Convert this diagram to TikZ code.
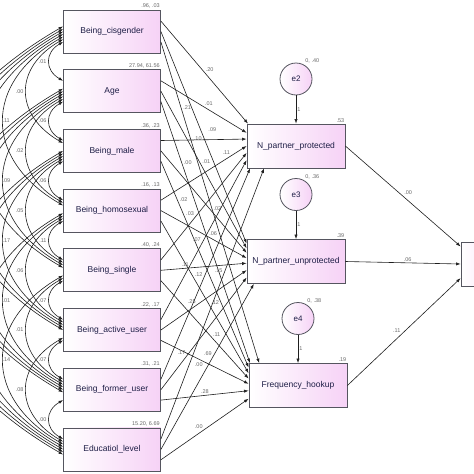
\documentclass[tikz,border=0pt]{standalone}
\usepackage{fontspec}
\setmainfont{Liberation Sans}
\usetikzlibrary{arrows.meta,positioning}

\definecolor{boxpink}{RGB}{246,210,246}
\definecolor{boxline}{RGB}{85,85,95}
\definecolor{txtblue}{RGB}{30,30,70}
\definecolor{coefgray}{RGB}{105,105,105}
\definecolor{linecol}{RGB}{30,30,30}

\begin{document}
\begin{tikzpicture}[x=1pt,y=-1pt,>={Latex[length=4.5pt,width=3.2pt]},auto,node distance=59.7pt,
    var/.style={draw=boxline,line width=0.8pt,left color=white,right color=boxpink,minimum width=97pt,minimum height=43pt,inner sep=0pt,text=txtblue,font=\fontsize{8.5}{10}\selectfont},
    err/.style={circle,draw=boxline,line width=0.8pt,left color=white,right color=boxpink,minimum size=32pt,inner sep=0pt,text=txtblue,font=\fontsize{8}{9}\selectfont},
    vlab/.style={font=\fontsize{5.5}{6}\selectfont,text=coefgray,inner sep=1pt},
    coef/.style={font=\fontsize{5.5}{6}\selectfont,text=coefgray,inner sep=1pt},
    reg/.style={color=linecol,line width=0.6pt},
    cov/.style={<->,color=linecol,line width=0.6pt,bend right=60,looseness=1.4}]
    \useasboundingbox (0,0) rectangle (474,474);
    \clip (0,0) rectangle (474,474);

    % exogenous variables
    \node[var,label={[vlab,anchor=south east]north east:{.96, .03}}]   (cis)    at (112,31.5)        {Being\_cisgender};
    \node[var,label={[vlab,anchor=south east]north east:{27.94, 61.56}}] (age)  [below of = cis]    {Age};
    \node[var,label={[vlab,anchor=south east]north east:{.36, .23}}]   (male)   [below of = age]    {Being\_male};
    \node[var,label={[vlab,anchor=south east]north east:{.16, .13}}]   (homo)   [below of = male]   {Being\_homosexual};
    \node[var,label={[vlab,anchor=south east]north east:{.40, .24}}]   (single) [below of = homo]   {Being\_single};
    \node[var,label={[vlab,anchor=south east]north east:{.22, .17}}]   (active) [below of = single] {Being\_active\_user};
    \node[var,label={[vlab,anchor=south east]north east:{.31, .21}}]   (former) [below of = active] {Being\_former\_user};
    \node[var,label={[vlab,anchor=south east]north east:{15.20, 6.69}}] (edu)   [below of = former] {Educatiol\_level};

    % mediators and errors
    \node[var,minimum width=98pt,minimum height=44pt,label={[vlab,anchor=south east]north east:.53}] (prot)   at (296,146)   {N\_partner\_protected};
    \node[var,minimum width=98pt,minimum height=44pt,label={[vlab,anchor=south east]north east:.39}] (unprot) at (296,261.5) {N\_partner\_unprotected};
    \node[var,minimum width=98pt,minimum height=44pt,label={[vlab,anchor=south east]north east:.19}] (hookup) at (298,385.5) {Frequency\_hookup};
    \node[err,node distance=67pt,label={[vlab]60:{0, .40}}] (e2) [above of = prot]   {e2};
    \node[err,node distance=67pt,label={[vlab]60:{0, .36}}] (e3) [above of = unprot] {e3};
    \node[err,node distance=67pt,label={[vlab]60:{0, .38}}] (e4) [above of = hookup] {e4};
    \node[var,minimum width=60pt,minimum height=44pt] (out) at (491,264) {};

    % covariances
    \path[cov,nodes=coef]
        (cis.192)    edge node[left=1.5pt] {.01} (age.168)
        (cis.189)    edge node[left=1.5pt] {.00} (male.171)
        (cis.186)    edge node[right=-2pt] {.11} (homo.174)
        (cis.183)    edge (single.177)
        (cis.180)    edge (active.180)
        (cis.177)    edge (former.183)
        (cis.174)    edge (edu.186)
        (age.192)    edge node[left=1.5pt] {.06} (male.168)
        (age.189)    edge node[left=1.5pt] {.02} (homo.171)
        (age.186)    edge node[right=-2pt] {.09} (single.174)
        (age.183)    edge (active.177)
        (age.180)    edge (former.180)
        (age.177)    edge (edu.183)
        (male.192)   edge node[left=1.5pt] {.06} (homo.168)
        (male.189)   edge node[left=1.5pt] {.05} (single.171)
        (male.186)   edge node[right=-2pt] {.17} (active.174)
        (male.183)   edge (former.177)
        (male.180)   edge (edu.180)
        (homo.192)   edge node[left=1.5pt] {.11} (single.168)
        (homo.189)   edge node[left=1.5pt] {.06} (active.171)
        (homo.186)   edge node[right=-2pt] {.01} (former.174)
        (homo.183)   edge (edu.177)
        (single.192) edge node[left=1.5pt] {.07} (active.168)
        (single.189) edge node[left=1.5pt] {.01} (former.171)
        (single.186) edge node[right=-2pt] {.14} (edu.174)
        (active.192) edge node[left=1.5pt] {.07} (former.168)
        (active.189) edge node[left=1.5pt] {.08} (edu.171)
        (former.192) edge node[left=1.5pt] {.00} (edu.168);

    % regressions
    \path[->,reg,nodes=coef]
        (cis.12)     edge node[pos=.5]        {.20} (prot.155)
        (cis.0)      edge node[swap,pos=.49]  {.10} (unprot.160)
        (cis.348)    edge node[pos=.215]      {.21} (hookup.150)
        (age.12)     edge node[pos=.5]        {.01} (prot.165)
        (age.0)      edge node[pos=.47]       {.01} (unprot.165)
        (age.348)    edge node[pos=.244]      {.00} (hookup.155)
        (male.12)    edge node[above=7pt,pos=.6] {.09} (prot.172)
        (male.0)     edge node[pos=.6]        {.02} (unprot.170)
        (male.348)   edge node[pos=.2]        {.02} (hookup.160)
        (homo.12)    edge node[pos=.82]       {.11} (prot.180)
        (homo.0)     edge node[pos=.55]       {.06} (unprot.176)
        (homo.348)   edge node[pos=.56]       {.12} (hookup.166)
        (single.12)  edge node[pos=.4]        {.03} (prot.188)
        (single.0)   edge node[pos=.34]       {.11} (unprot.182)
        (single.348) edge node[pos=.58]       {.11} (hookup.172)
        (active.12)  edge node[pos=.48]       {.07} (prot.196)
        (active.0)   edge node[pos=.42]       {.25} (unprot.190)
        (active.348) edge node[swap,pos=.49]  {.00} (hookup.178)
        (former.12)  edge node[pos=.48]       {.12} (prot.206)
        (former.0)   edge node[pos=.3]        {.17} (unprot.198)
        (former.348) edge node[pos=.56]       {.28} (hookup.186)
        (edu.12)     edge node[pos=.61]       {.15} (prot.215)
        (edu.0)      edge node[pos=.56]       {.69} (unprot.208)
        (edu.348)    edge node[pos=.49]       {.00} (hookup.195)
        (e2)          edge node {1} (prot)
        (e3)          edge node {1} (unprot)
        (e4)          edge node {1} (hookup)
        (prot.east)   edge node[pos=.5]  {.00} (out.150)
        (unprot.east) edge node[pos=.54] {.06} (out.180)
        (hookup.east) edge node[pos=.48] {.11} (out.205);
\end{tikzpicture}
\end{document}
